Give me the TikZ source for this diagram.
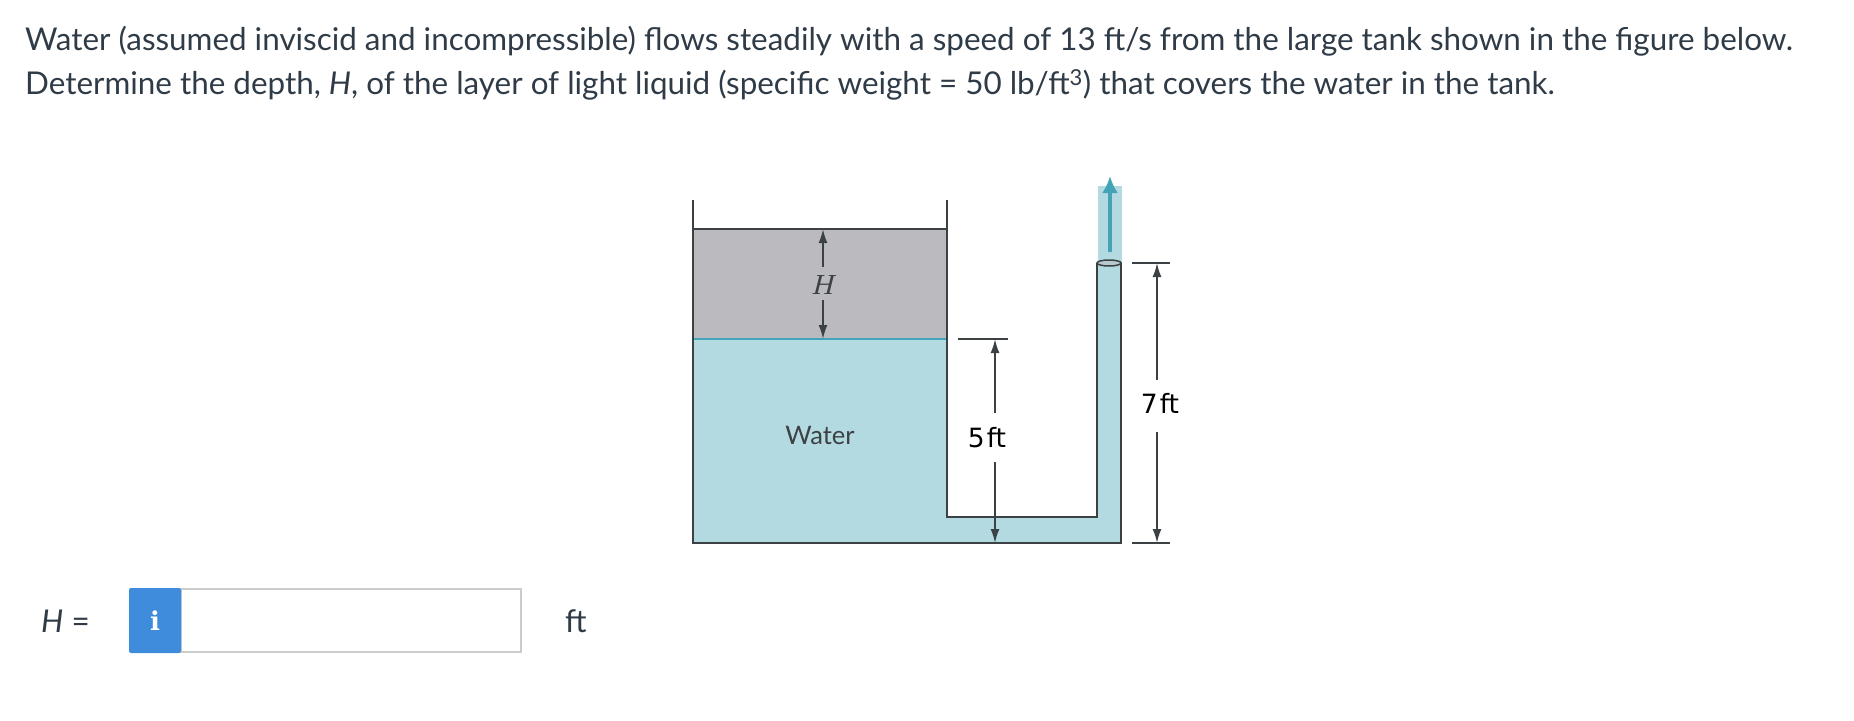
\documentclass[tikz,border=0pt]{standalone}
\usepackage{fontspec}
\setmainfont{Lato}
\newfontfamily\djv{DejaVu Sans}
\newfontfamily\djm{DejaVu Serif Bold}
\newfontfamily\lib[FakeSlant=0.25]{Liberation Serif}
\usetikzlibrary{arrows.meta}
\definecolor{ink}{HTML}{2F3B47}
\definecolor{wat}{HTML}{B3D9E1}
\definecolor{oil}{HTML}{BBBBBF}
\definecolor{wall}{HTML}{3C4144}
\definecolor{jetc}{HTML}{45A3B8}
\definecolor{btn}{HTML}{3F8CDC}
\definecolor{bord}{HTML}{CCCCCC}
\tikzset{
  prose/.style={anchor=base west,inner sep=0pt,text=ink,font=\fontsize{31.4}{31.4}\selectfont},
  wallline/.style={draw=wall,line width=2.2pt},
  dimline/.style={draw=wall,line width=1.9pt},
  dimarrow/.style={dimline,-{Latex[length=14pt,width=9pt]}},
  dimlabel/.style={inner sep=0pt,text=black,font=\djv\fontsize{26.5}{26.5}\selectfont},
}
\begin{document}
\begin{tikzpicture}[x=1pt,y=-1pt]
\useasboundingbox (0,0) rectangle (1854,720);
% prose
\node[prose] (l1) at (25,50) {Water (assumed inviscid and incompressible) flows steadily with a speed of 13 ft/s from the large tank shown in the figure below.};
\node[prose] (l2) at (25,94.5) {Determine the depth, \emph{H}, of the layer of light liquid (specific weight = 50 lb/ft\textsuperscript{3}) that covers the water in the tank.};
% fluids
\fill[oil] (693,229) rectangle (947,339);
\fill[wat] (693,339) -- (947,339) -- (947,517) -- (1097,517) -- (1097,263) -- (1121,263) -- (1121,543) -- (693,543) -- cycle;
\fill[wat] (1098,186) rectangle (1122,263);
\draw[jetc,line width=1.8pt] (693,339) -- (947,339);
% walls
\draw[wallline] (693,200) -- (693,543) -- (1121,543) -- (1121,263);
\draw[wallline] (947,200) -- (947,517) -- (1097,517) -- (1097,263);
\draw[wallline] (693,229) -- (947,229);
\draw[wall,line width=1.5pt,fill=wat!50!oil] (1109,263) ellipse (12pt and 3pt);
% jet arrow
\coordinate (jetA) at (1110,252);
\coordinate (jetB) at (1110,176);
\draw[jetc,line width=4pt,-{Latex[length=17pt,width=16pt]}] (jetA) -- (jetB);
% H
\node[inner sep=0pt,text=wall,font=\lib\fontsize{29}{29}\selectfont] (hl) at (822,285) {H};
\coordinate (hT) at (823,229);
\coordinate (hB) at (823,339);
\coordinate (hU) at (823,267);
\coordinate (hD) at (823,300);
\draw[dimarrow] (hU) -- (hT);
\draw[dimarrow] (hD) -- (hB);
% water label
\node[inner sep=0pt,text=wall,font=\fontsize{25.5}{25.5}\selectfont] (wl) at (820,435) {Water};
% 5 ft
\coordinate (fa) at (958,339);
\coordinate (fb) at (1008,339);
\draw[dimline] (fa) -- (fb);
\coordinate (fT) at (995,339);
\coordinate (fB) at (995,543);
\coordinate (fU) at (995,413);
\coordinate (fD) at (995,462);
\draw[dimarrow] (fU) -- (fT);
\draw[dimarrow] (fD) -- (fB);
\node[dimlabel] (fl) at (987,438) {5\kern2pt ft};
% 7 ft
\coordinate (sa) at (1132,263);
\coordinate (sb) at (1170,263);
\coordinate (sc) at (1132,543);
\coordinate (sd) at (1170,543);
\draw[dimline] (sa) -- (sb);
\draw[dimline] (sc) -- (sd);
\coordinate (sT) at (1157,263);
\coordinate (sB) at (1157,543);
\coordinate (sU) at (1157,380);
\coordinate (sD) at (1157,432);
\draw[dimarrow] (sU) -- (sT);
\draw[dimarrow] (sD) -- (sB);
\node[dimlabel] (sl) at (1160,403) {7\kern2pt ft};
% answer row
\node[prose] (hq) at (41,632) {\emph{H} =};
\draw[bord,line width=1.6pt,fill=white] (181,589) rectangle (521,652);
\fill[btn,rounded corners=2pt] (129,588) rectangle (181,653);
\node[inner sep=0pt,text=white,font=\djm\fontsize{26}{26}\selectfont] (ic) at (155,621) {i};
\node[prose] (ft) at (565,632) {ft};
\end{tikzpicture}
\end{document}
